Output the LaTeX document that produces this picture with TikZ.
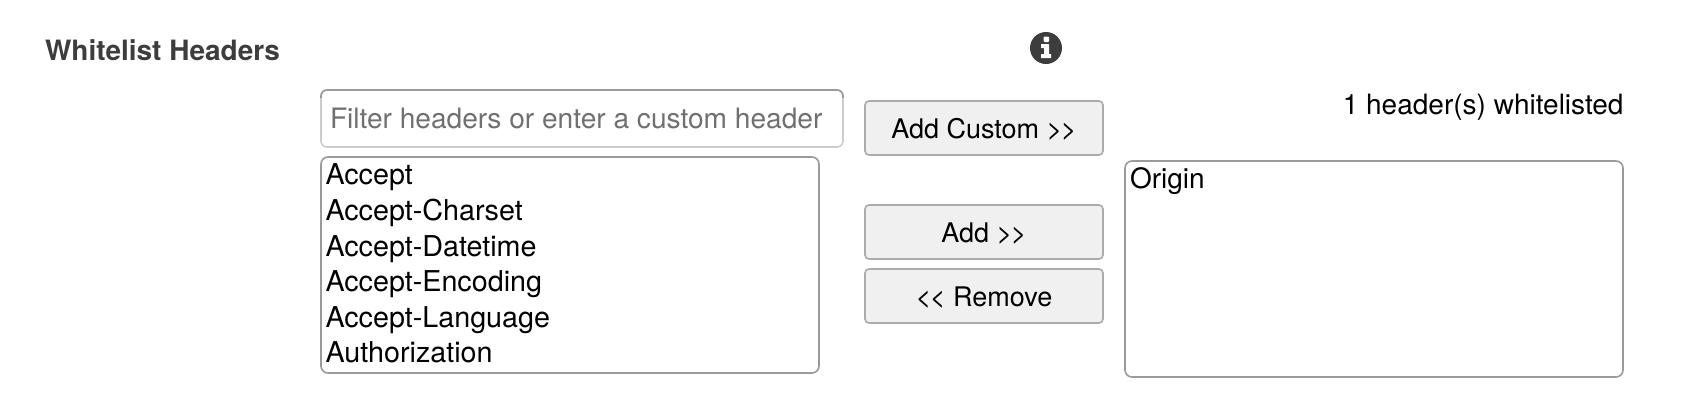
\documentclass[tikz,border=0pt]{standalone}
\usepackage{fontspec}
\setmainfont{TeX Gyre Heros}
\definecolor{titlecol}{HTML}{3D3D3D}
\definecolor{hintcol}{HTML}{707070}
\definecolor{edgecol}{HTML}{9A9A9A}
\definecolor{softedge}{HTML}{CCCCCC}
\definecolor{btnfill}{HTML}{F0F0F0}
\definecolor{btnedge}{HTML}{ABABAB}
\newcommand{\rgt}{>\kern-1.5pt>}
\newcommand{\lft}{<\kern-1.5pt<}
\tikzset{
  txt/.style={anchor=base west,inner sep=0pt,outer sep=0pt,font=\fontsize{28}{28}\selectfont,text=black},
  itemtxt/.style={txt,font=\fontsize{28.7}{28.7}\selectfont},
  listbox/.style={draw=edgecol,line width=1.6pt,fill=white,rounded corners=7pt,inner sep=0pt,outer sep=0pt},
  filterbox/.style={draw=softedge,line width=1.6pt,fill=white,rounded corners=6pt,inner sep=0pt,outer sep=0pt},
  btn/.style={draw=btnedge,line width=1.6pt,fill=btnfill,rounded corners=4pt,inner sep=0pt,outer sep=0pt,
    minimum width=238pt,minimum height=54pt,text height=20pt,text depth=0pt,font=\fontsize{27}{27}\selectfont,text=black},
}
\begin{document}
\begin{tikzpicture}[x=1pt,y=-1pt]
\useasboundingbox (0,0) rectangle (1702,416);
\node[txt,font=\fontsize{28}{28}\selectfont\bfseries,text=titlecol] (title) at (45,60) {Whitelist Headers};
% info icon
\node[circle,fill=titlecol,minimum size=32pt,inner sep=0pt,outer sep=0pt] (info) at (1046,48) {};
\fill[white,shift={(info.center)}] (-5,-4) -- (3,-4) -- (3,6) -- (5,6) -- (5,10) -- (-5,10) -- (-5,6) -- (-2,6) -- (-2,0) -- (-5,0) -- cycle;
\fill[white,shift={(info.center)},rounded corners=1pt] (-2.5,-11.5) rectangle (3,-6);
% filter
\node[filterbox,minimum width=522pt,minimum height=57pt] (filter) at (582,118.5) {};
\draw[edgecol,line width=1.6pt,rounded corners=6pt] ([yshift=-8pt]filter.north west) |- ([yshift=0pt]filter.north east) -- ([yshift=-8pt]filter.north east);
\node[txt,text=hintcol,font=\fontsize{28.1}{28.1}\selectfont] (hint) at (330,128) {Filter headers or enter a custom header};
% left list
\node[listbox,minimum width=498pt,minimum height=216pt] (left) at (570,265) {};
\node[itemtxt] (i1) at (325.5,184) {Accept};
\node[itemtxt] (i2) at (325.5,220) {Accept-Charset};
\node[itemtxt] (i3) at (325.5,256) {Accept-Datetime};
\node[itemtxt] (i4) at (325.5,291) {Accept-Encoding};
\node[itemtxt] (i5) at (325.5,327) {Accept-Language};
\node[itemtxt] (i6) at (325.5,362.5) {Authorization};
% buttons
\node[btn] (custom) at (984,128) {Add Custom \rgt};
\node[btn] (add) at (984,232) {Add \rgt};
\node[btn] (remove) at (984,296) {\lft{} Remove};
% right list
\node[txt,anchor=base east] (count) at (1623.5,114.5) {1 header(s) whitelisted};
\node[listbox,minimum width=498pt,minimum height=216pt] (right) at (1374,269) {};
\node[txt] (o1) at (1130,188.5) {Origin};
\end{tikzpicture}
\end{document}
